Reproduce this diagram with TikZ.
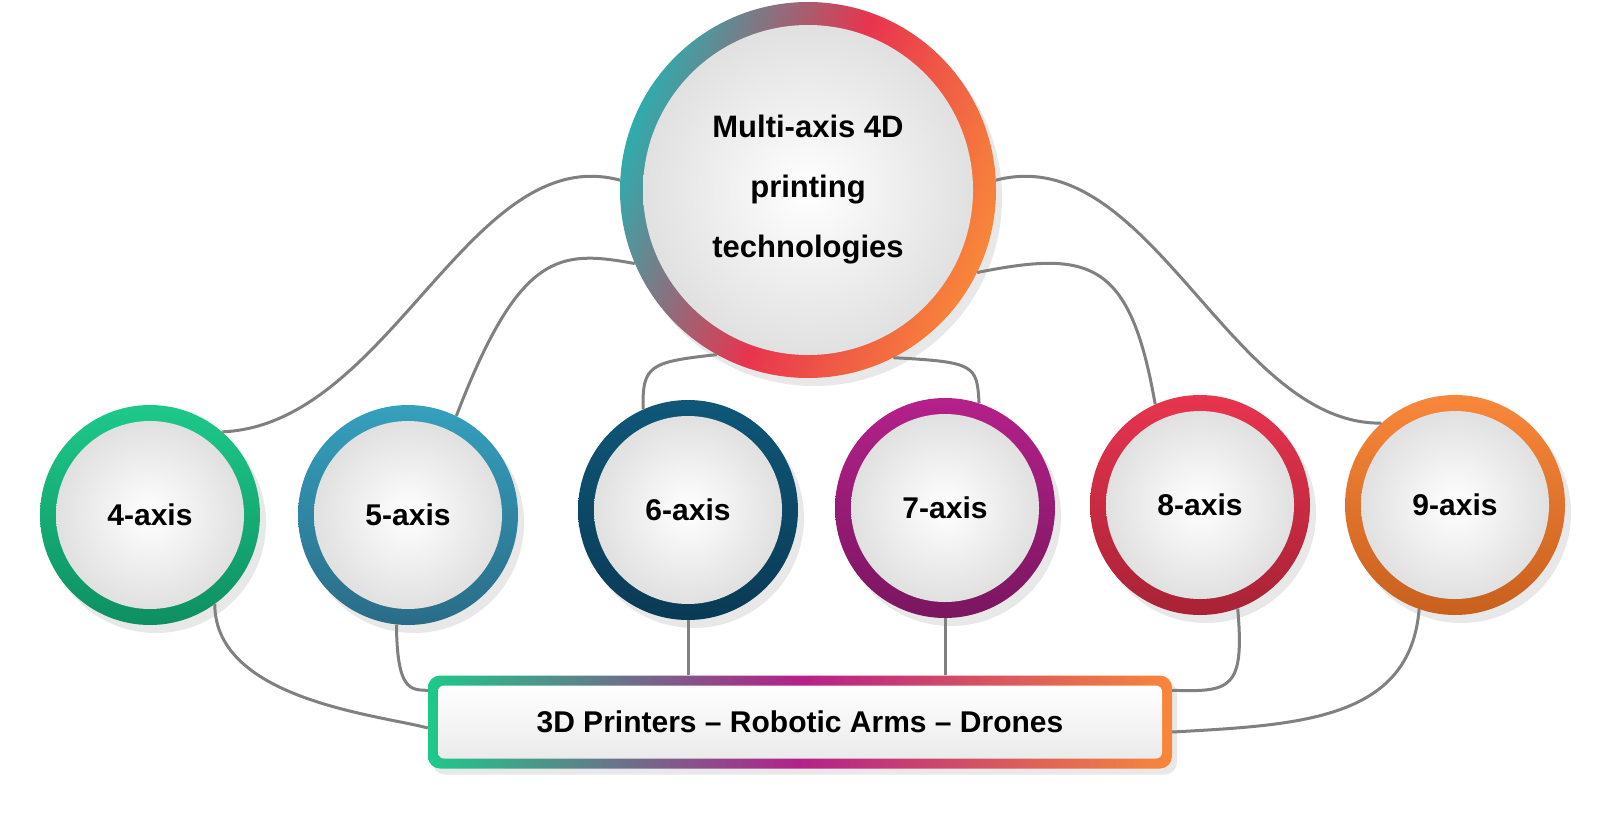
\documentclass[tikz,border=0pt]{standalone}
\usepackage{fontspec}
\setmainfont{Liberation Sans}
\usetikzlibrary{shadows,calc}
\definecolor{cg}{HTML}{1DC98A}\definecolor{cgd}{HTML}{0E8F62}
\definecolor{ct}{HTML}{35A0BD}\definecolor{ctd}{HTML}{2A6C88}
\definecolor{cb}{HTML}{0F5778}\definecolor{cbd}{HTML}{0A3A55}
\definecolor{cp}{HTML}{B4218A}\definecolor{cpd}{HTML}{7A1660}
\definecolor{cr}{HTML}{E8344F}\definecolor{crd}{HTML}{A82236}
\definecolor{co}{HTML}{F8873A}\definecolor{cod}{HTML}{C8601E}
\definecolor{lnk}{HTML}{808080}
\tikzset{
 ring/.style={circle,minimum size=220pt,inner sep=0pt,drop shadow={shadow xshift=6pt,shadow yshift=-8pt,opacity=0.18}},
 face/.style={circle,minimum size=188pt,inner sep=0pt,inner color=white,outer color=black!12,font=\bfseries\fontsize{30}{36}\selectfont},
 lk/.style={draw=lnk,line width=3pt},
}
\begin{document}
\begin{tikzpicture}[x=1pt,y=-1pt]
\useasboundingbox (0,0) rectangle (1600,828);
% big
\node[ring,minimum size=376pt,left color=ct!70!cg,right color=co,middle color=cr,shading angle=70] (big) at (808,190) {};
\node[face,minimum size=330pt,align=center,font=\bfseries\fontsize{31}{60}\selectfont] (bigf) at (big) {Multi-axis 4D\\printing\\technologies};
% small
\node[ring,top color=cg,bottom color=cgd] (n4) at (150,515) {};
\node[face] at (n4) {4-axis};
\node[ring,top color=ct,bottom color=ctd] (n5) at (408,515) {};
\node[face] at (n5) {5-axis};
\node[ring,top color=cb,bottom color=cbd] (n6) at (688,510) {};
\node[face] at (n6) {6-axis};
\node[ring,top color=cp,bottom color=cpd] (n7) at (945,508) {};
\node[face] at (n7) {7-axis};
\node[ring,top color=cr,bottom color=crd] (n8) at (1200,505) {};
\node[face] at (n8) {8-axis};
\node[ring,top color=co,bottom color=cod] (n9) at (1455,505) {};
\node[face] at (n9) {9-axis};
% links top
\draw[lk] (big.177) .. controls (470,140) and (390,425) .. (n4.49);
\draw[lk] (big.203) .. controls (560,250) and (520,250) .. (n5.64);
\draw[lk] (big.241) .. controls (650,362) and (642,365) .. (n6.114);
\draw[lk] (big.297) .. controls (975,362) and (977,365) .. (n7.72);
\draw[lk] (big.334) .. controls (1090,250) and (1130,260) .. (n8.114);
\draw[lk] (big.3) .. controls (1150,140) and (1230,425) .. (n9.132);
% box
\node[draw=none,rounded corners=12pt,minimum width=744pt,minimum height=93pt,left color=cg,right color=co,middle color=cp,drop shadow={shadow xshift=5pt,shadow yshift=-6pt,opacity=0.18}] (bot) at (800,722) {};
\node[rounded corners=6pt,minimum width=724pt,minimum height=73pt,top color=white,bottom color=black!8,font=\bfseries\fontsize{30}{36}\selectfont] (botf) at (bot) {3D Printers -- Robotic Arms -- Drones};
% links bottom
\draw[lk] (n4.306) .. controls (215,700) and (380,715) .. ($(bot.west)+(0,6)$);
\draw[lk] (n5.264) .. controls (397,690) and (410,690) .. ($(bot.north west)+(0,15)$);
\draw[lk] (n6.270) -- (n6.270 |- bot.north);
\draw[lk] (n7.270) -- (n7.270 |- bot.north);
\draw[lk] (n8.290) .. controls (1245,690) and (1230,692) .. ($(bot.north east)+(0,15)$);
\draw[lk] (n9.251) .. controls (1410,720) and (1300,725) .. ($(bot.east)+(0,10)$);
\end{tikzpicture}
\end{document}
